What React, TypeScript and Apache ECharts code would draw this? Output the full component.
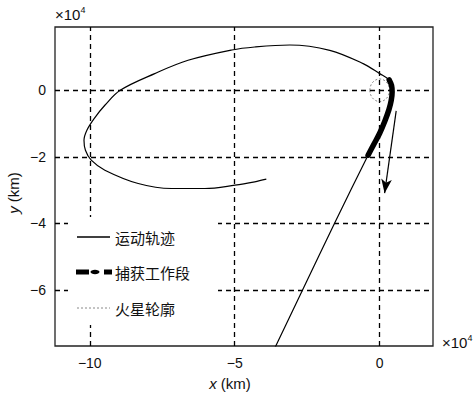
import React, { useEffect, useRef } from "react";
import * as echarts from "echarts";

// Axis ticks (units of 10^4 km)
const xTicks = [-10, -5, 0];
const yTicks = [0, -2, -4, -6];
const xRange = [-11.2, 1.84];
const yRange = [-7.68, 1.9];

// Motion trajectory (x, y in 10^4 km)
const trajectory: number[][] = [
  [-3.65, -7.8], [-2.66, -6.0], [-1.56, -4.0], [-0.4, -1.95], [-0.2, -1.62],
  [0.0, -1.29], [0.18, -0.92], [0.32, -0.58], [0.4, -0.3], [0.43, -0.05],
  [0.41, 0.15], [0.33, 0.31], [0.0, 0.5], [-0.57, 0.8], [-1.72, 1.2],
  [-3.1, 1.36], [-4.31, 1.3], [-5.1, 1.21], [-6.61, 0.9], [-7.76, 0.5],
  [-8.95, 0.0], [-9.48, -0.45], [-9.85, -0.85], [-10.1, -1.2], [-10.2, -1.5],
  [-10.15, -1.8], [-9.95, -2.1], [-9.48, -2.4], [-8.33, -2.8], [-7.18, -2.95],
  [-6.03, -2.95], [-4.99, -2.85], [-4.31, -2.75], [-3.91, -2.67],
];

// Capture working segment
const captureSegment: number[][] = [
  [-0.4, -1.95], [-0.2, -1.62], [0.0, -1.29], [0.18, -0.92], [0.32, -0.58],
  [0.4, -0.3], [0.43, -0.05], [0.41, 0.15], [0.33, 0.31],
];

// Mars outline: centre x, centre y, radius
const marsCircle: number[][] = [[0, 0, 0.339]];

// Direction arrow: start, end
const arrowStart = [0.57, -0.62];
const arrowEnd = [0.17, -3.09];

// Legend entries
const legendNames = ["运动轨迹", "捕获工作段", "火星轮廓"];

const fmt = (v: number) => (v < 0 ? "\u2212" + Math.abs(v) : String(v));
const numFont = "Liberation Sans, Arial, sans-serif";
const cjkFont = "Noto Sans CJK SC, sans-serif";

export default function App() {
  const ref = useRef<HTMLDivElement>(null);
  useEffect(() => {
    if (!ref.current) return;
    const chart = echarts.init(ref.current, undefined, { renderer: "svg" });
    const lx = 77;
    const ly = [237, 272, 308];
    chart.setOption({
      animation: false,
      grid: {
        left: 55,
        top: 27,
        right: 41,
        bottom: 48,
        show: true,
        borderColor: "#222",
        borderWidth: 1.3,
        backgroundColor: "transparent",
      },
      xAxis: {
        type: "value",
        min: xRange[0],
        max: xRange[1],
        splitLine: { show: false },
        axisLine: { show: false },
        axisTick: { show: false },
        axisLabel: {
          customValues: xTicks,
          formatter: fmt,
          margin: 10,
          fontSize: 14,
          fontFamily: numFont,
          color: "#111",
        },
      },
      yAxis: {
        type: "value",
        min: yRange[0],
        max: yRange[1],
        splitLine: { show: false },
        axisLine: { show: false },
        axisTick: { show: false },
        axisLabel: {
          customValues: yTicks,
          formatter: fmt,
          margin: 9,
          fontSize: 14,
          fontFamily: numFont,
          color: "#111",
        },
      },
      series: [
        {
          name: legendNames[2],
          type: "custom",
          data: marsCircle,
          z: 1,
          renderItem: (params: any, api: any) => {
            const c = api.coord([api.value(0), api.value(1)]);
            const s = api.size([api.value(2), api.value(2)]);
            return {
              type: "ellipse",
              shape: { cx: c[0], cy: c[1], rx: s[0], ry: s[1] },
              style: { fill: "none", stroke: "#888", lineWidth: 1, lineDash: [2, 2] },
            };
          },
        },
        {
          name: legendNames[0],
          type: "line",
          data: trajectory,
          symbol: "none",
          smooth: 0.35,
          z: 3,
          lineStyle: { color: "#000", width: 1.2 },
          markLine: {
            silent: true,
            symbol: "none",
            label: { show: false },
            lineStyle: { color: "#000", width: 1.3, type: [5, 4] },
            data: [
              ...xTicks.map((v) => ({ xAxis: v })),
              ...yTicks.map((v) => ({ yAxis: v })),
            ],
          },
        },
        {
          name: legendNames[1],
          type: "line",
          data: captureSegment,
          symbol: "none",
          smooth: 0.35,
          z: 4,
          lineStyle: { color: "#000", width: 5.5, cap: "round" },
          itemStyle: { color: "#000" },
          markLine: {
            silent: true,
            symbol: ["none", "arrow"],
            symbolSize: [8, 14],
            label: { show: false },
            lineStyle: { color: "#000", width: 1.2, type: "solid" },
            data: [[{ coord: arrowStart }, { coord: arrowEnd }]],
          },
        },
      ],
      graphic: [
        {
          type: "group",
          z: 100,
          children: [
            {
              type: "rect",
              z: 100,
              shape: { x: 68, y: 217, width: 150, height: 108 },
              style: { fill: "#fff", stroke: "none" },
            },
            {
              type: "line",
              z: 101,
              shape: { x1: lx, y1: ly[0], x2: lx + 33, y2: ly[0] },
              style: { stroke: "#000", lineWidth: 1.3 },
            },
            {
              type: "rect",
              z: 101,
              shape: { x: lx - 1, y: ly[1] - 2.5, width: 13, height: 5 },
              style: { fill: "#000" },
            },
            {
              type: "ellipse",
              z: 101,
              shape: { cx: lx + 18, cy: ly[1], rx: 4.5, ry: 2.2 },
              style: { fill: "#000" },
            },
            {
              type: "rect",
              z: 101,
              shape: { x: lx + 27, y: ly[1] - 2.5, width: 8, height: 5 },
              style: { fill: "#000" },
            },
            {
              type: "line",
              z: 101,
              shape: { x1: lx, y1: ly[2], x2: lx + 33, y2: ly[2] },
              style: { stroke: "#888", lineWidth: 1, lineDash: [2, 2] },
            },
            ...legendNames.map((n, i) => ({
              type: "text",
              z: 101,
              x: 115,
              y: ly[i],
              style: {
                text: n,
                fontSize: 15,
                fontFamily: cjkFont,
                fill: "#111",
                verticalAlign: "middle",
              },
            })),
          ],
        },
        {
          type: "text",
          x: 55,
          y: 14,
          style: {
            text: "{b|\u00d710}{s|4}",
            verticalAlign: "middle",
            rich: {
              b: { fontSize: 15, fontFamily: numFont, fill: "#111" },
              s: { fontSize: 9, fontFamily: numFont, fill: "#111", padding: [0, 0, 8, 0] },
            },
          },
        },
        {
          type: "text",
          x: 442,
          y: 342,
          style: {
            text: "{b|\u00d710}{s|4}",
            verticalAlign: "middle",
            rich: {
              b: { fontSize: 15, fontFamily: numFont, fill: "#111" },
              s: { fontSize: 9, fontFamily: numFont, fill: "#111", padding: [0, 0, 8, 0] },
            },
          },
        },
        {
          type: "text",
          x: 230,
          y: 383,
          style: {
            text: "{i|x}{n| (km)}",
            align: "center",
            verticalAlign: "middle",
            rich: {
              i: { fontSize: 15, fontFamily: numFont, fontStyle: "italic", fill: "#111" },
              n: { fontSize: 15, fontFamily: numFont, fill: "#111" },
            },
          },
        },
        {
          type: "text",
          x: 13,
          y: 193,
          rotation: Math.PI / 2,
          style: {
            text: "{i|y}{n| (km)}",
            align: "center",
            verticalAlign: "middle",
            rich: {
              i: { fontSize: 15, fontFamily: numFont, fontStyle: "italic", fill: "#111" },
              n: { fontSize: 15, fontFamily: numFont, fill: "#111" },
            },
          },
        },
      ],
    });
    return () => chart.dispose();
  }, []);
  return <div ref={ref} style={{ width: 474, height: 394, position: "absolute", left: 0, top: 0 }} />;
}
